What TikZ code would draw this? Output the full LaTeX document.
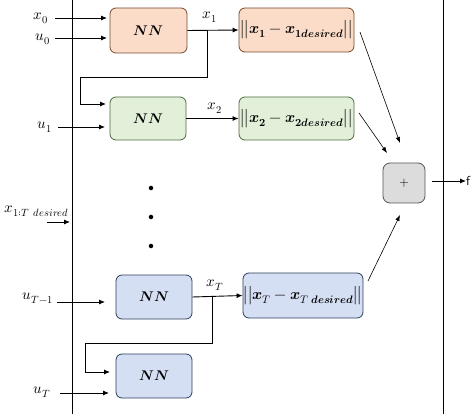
\documentclass[tikz,border=0pt]{standalone}
\usepackage{amsmath}
\usepackage{unicode-math}
\setmathfont{Latin Modern Math}
\usetikzlibrary{arrows.meta,calc}
\definecolor{orfill}{HTML}{FBDCC8}
\definecolor{ordraw}{HTML}{7A4A2E}
\definecolor{grfill}{HTML}{E2F0D9}
\definecolor{grdraw}{HTML}{4E6A3E}
\definecolor{blfill}{HTML}{D5DFF3}
\definecolor{bldraw}{HTML}{2E3D5C}
\definecolor{gyfill}{HTML}{DCDCDC}
\definecolor{gydraw}{HTML}{555555}
\begin{document}
\begin{tikzpicture}[x=1pt,y=-1pt,
  box/.style={rounded corners=6pt, line width=0.8pt, inner sep=0pt, font=\fontsize{14}{16}\selectfont},
  nnbox/.style={box, minimum width=76pt, minimum height=44pt},
  normbox/.style={box, minimum height=44pt, font=\fontsize{15.5}{18}\selectfont},
  lab/.style={inner sep=0pt, font=\fontsize{15}{17}\selectfont},
  arr/.style={line width=0.9pt, -{Latex[length=6pt,width=5pt]}},
  thinarr/.style={line width=0.6pt, -{Latex[length=6pt,width=4.5pt]}},
  conn/.style={line width=0.9pt}]
\useasboundingbox (0,0) rectangle (474,414);
% frame lines
\coordinate (lt) at (72,0); \coordinate (lb) at (72,414);
\coordinate (rt) at (443,0); \coordinate (rb) at (443,414);
\draw[line width=0.9pt] (lt) -- (lb);
\draw[line width=0.9pt] (rt) -- (rb);
% NN boxes
\node[nnbox, fill=orfill, draw=ordraw, minimum width=77pt, minimum height=45pt] (nn1) at (148.5,30.5) {$\symbfit{NN}$};
\node[nnbox, fill=grfill, draw=grdraw, minimum height=43pt] (nn2) at (148,118.5) {$\symbfit{NN}$};
\node[nnbox, fill=blfill, draw=bldraw] (nn3) at (154,297) {$\symbfit{NN}$};
\node[nnbox, fill=blfill, draw=bldraw] (nn4) at (154,376) {$\symbfit{NN}$};
% norm boxes
\node[normbox, fill=orfill, draw=ordraw, minimum width=115pt] (n1) at (296.5,30) {$\big\lvert\big\lvert\symbfit{x}_{\symbf{1}}\mathbin{\symbf{-}}\symbfit{x}_{\symbf{1}\symbfit{desired}}\big\rvert\big\rvert$};
\node[normbox, fill=grfill, draw=grdraw, minimum width=115pt, minimum height=43pt] (n2) at (296.5,118.5) {$\big\lvert\big\lvert\symbfit{x}_{\symbf{2}}\mathbin{\symbf{-}}\symbfit{x}_{\symbf{2}\symbfit{desired}}\big\rvert\big\rvert$};
\node[normbox, fill=blfill, draw=bldraw, minimum width=120pt, minimum height=45pt] (n3) at (303,295.5) {$\big\lvert\big\lvert\symbfit{x}_{T}\mathbin{\symbf{-}}\symbfit{x}_{T\;\symbfit{desired}}\big\rvert\big\rvert$};
% plus
\node[box, fill=gyfill, draw=gydraw, minimum width=42pt, minimum height=40pt, rounded corners=7pt, font=\sffamily\fontsize{13}{15}\selectfont] (plus) at (404,183) {+};
% input labels
\node[lab] (x0) at (41,18) {$x_0$};
\node[lab] (u0) at (43,39) {$u_0$};
\node[lab] (u1) at (45,127) {$u_1$};
\node[lab] (xd) at (37,211) {$x_{1:T\ desired}$};
\node[lab] (uTm) at (38,298) {$u_{T-1}$};
\node[lab] (uT) at (42,392) {$u_T$};
% output labels
\node[lab] (x1) at (210,17) {$x_1$};
\node[lab] (x2) at (215,108) {$x_2$};
\node[lab] (xT) at (215,285) {$x_T$};
\node[lab, anchor=west, font=\sffamily\fontsize{13}{15}\selectfont] (f) at (466,181) {f};
% input arrows
\coordinate (x0s) at (55,18); \coordinate (x0e) at (107,18);
\coordinate (u0s) at (55,38); \coordinate (u0e) at (107,38);
\coordinate (u1s) at (58,127); \coordinate (u1e) at (105,127);
\coordinate (xds) at (47,222); \coordinate (xde) at (70,222);
\coordinate (uTms) at (57,302); \coordinate (uTme) at (105,302);
\coordinate (uTs) at (60,393); \coordinate (uTe) at (109,393);
\draw[arr] (x0s) -- (x0e);
\draw[arr] (u0s) -- (u0e);
\draw[arr] (u1s) -- (u1e);
\draw[arr] (xds) -- (xde);
\draw[arr] (uTms) -- (uTme);
\draw[arr] (uTs) -- (uTe);
% x1 connections
\draw[conn, -{Latex[length=6pt,width=5pt]}] (nn1.east) -- (n1.west);
\coordinate (b1) at (207,30);
\coordinate (b1e) at (106,104);
\draw[conn, -{Latex[length=6pt,width=5pt]}] (b1) -- (207,77) -- (80,77) -- (80,104) -- (b1e);
% x2
\draw[conn, -{Latex[length=6pt,width=5pt]}] (nn2.east) -- (n2.west);
% xT
\draw[conn, -{Latex[length=6pt,width=5pt]}] (nn3.east) -- (n3.west);
\coordinate (b3) at (212,297);
\coordinate (b3e) at (110,372);
\draw[conn, -{Latex[length=6pt,width=5pt]}] (b3) -- (212,343) -- (85,343) -- (85,372) -- (b3e);
% dots
\node[circle, fill=black, inner sep=1.6pt] (d1) at (151,188) {};
\node[circle, fill=black, inner sep=1.6pt] (d2) at (151,217) {};
\node[circle, fill=black, inner sep=1.6pt] (d3) at (151,246) {};
% to plus
\coordinate (p1s) at (360,32); \coordinate (p1e) at (400,143);
\coordinate (p2s) at (359,113); \coordinate (p2e) at (387,153);
\coordinate (p3s) at (368,281); \coordinate (p3e) at (400,215);
\draw[thinarr] (p1s) -- (p1e);
\draw[thinarr] (p2s) -- (p2e);
\draw[thinarr] (p3s) -- (p3e);
% output
\coordinate (os) at (432,181);
\draw[arr] (os) -- (f.west);
\end{tikzpicture}
\end{document}
